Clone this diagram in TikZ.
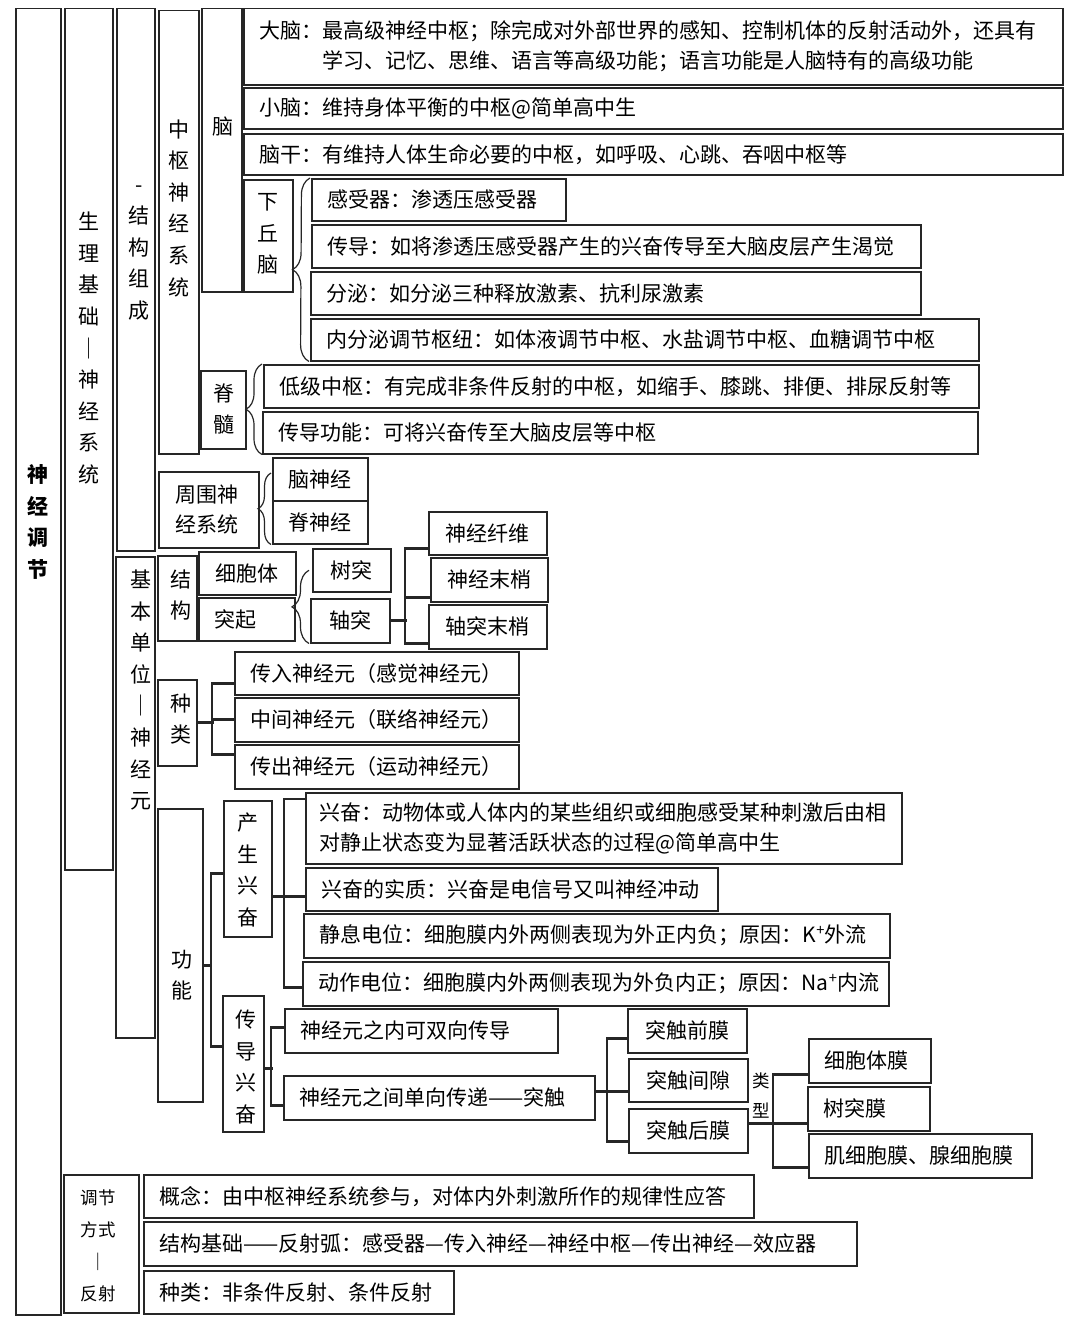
\documentclass[tikz,border=0pt]{standalone}
\usepackage{fontspec}
\setmainfont{Noto Sans CJK SC}
\usetikzlibrary{decorations.pathreplacing}

\begin{document}
\begin{tikzpicture}[x=1pt,y=-1pt,
    font=\fontsize{21}{30}\selectfont,
    frame/.style={draw=black!85, line width=1.5pt},
    leaf/.style={frame, anchor=north west, align=left, inner xsep=16pt, inner ysep=0pt},
    cbox/.style={frame, anchor=north west, align=center, inner sep=0pt},
    vlab/.style={align=center, inner sep=0pt, font=\fontsize{21}{31.6}\selectfont},
    smalllab/.style={align=center, inner sep=0pt, font=\fontsize{17.5}{32}\selectfont},
    conn/.style={draw=black!85, line width=2.6pt},
    brc/.style={draw=black!85, line width=1.2pt, decorate, decoration={brace, amplitude=#1, raise=1pt}}]
    \fill[white] (0,0) rectangle (1080,1322);

    % vertical frames
    \node[cbox, minimum width=45pt, minimum height=1306pt] (sjtj) at (15,8) {};
    \node[vlab, font=\fontsize{21}{31.6}\selectfont\bfseries] (sjtj-t) at (38,522) {神\\经\\调\\节};
    \node[cbox, minimum width=48pt, minimum height=861pt] (slji) at (64,8) {};
    \node[vlab] (slji-t) at (89,348) {生\\理\\基\\础\\｜\\神\\经\\系\\统};
    \node[cbox, minimum width=38pt, minimum height=542pt] (jgzc) at (116,8) {};
    \node[vlab] (jgzc-t) at (139,253) {-\\结\\构\\组\\成};
    \node[cbox, minimum width=40pt, minimum height=443pt] (zsxt) at (158,10) {};
    \node[vlab] (zsxt-t) at (179,208) {中\\枢\\神\\经\\系\\统};
    \node[cbox, minimum width=40pt, minimum height=283pt] (nao) at (201,8) {};
    \node[vlab] (nao-t) at (223,127) {脑};
    \node[cbox, minimum width=49pt, minimum height=112pt] (xqn) at (243,179) {};
    \node[vlab] (xqn-t) at (268,234) {下\\丘\\脑};
    \node[cbox, minimum width=45pt, minimum height=78pt] (jisui) at (200,370) {};
    \node[vlab] (jisui-t) at (224,409) {脊\\髓};
    \node[leaf, text width=66pt, minimum height=76pt, inner xsep=17pt] (zwsj) at (158,471) {周围神\\经系统};
    \node[cbox, minimum width=39pt, minimum height=481pt] (jbdw) at (115,556) {};
    \node[vlab] (jbdw-t) at (141,690) {基\\本\\单\\位\\｜\\神\\经\\元};
    \node[cbox, minimum width=39pt, minimum height=85pt] (jg) at (157,555) {};
    \node[vlab] (jg-t) at (181,595) {结\\构};
    \node[cbox, minimum width=39pt, minimum height=86pt] (zl) at (157,679) {};
    \node[vlab] (zl-t) at (181,719) {种\\类};
    \node[cbox, minimum width=45pt, minimum height=293pt] (gn) at (157,808) {};
    \node[vlab] (gn-t) at (182,975) {功\\能};
    \node[cbox, minimum width=48pt, minimum height=136pt] (csxf) at (223,800) {};
    \node[vlab] (csxf-t) at (248,870) {产\\生\\兴\\奋};
    \node[cbox, minimum width=41pt, minimum height=136pt] (cdxf) at (222,995) {};
    \node[vlab] (cdxf-t) at (246,1067) {传\\导\\兴\\奋};
    \node[cbox, minimum width=75pt, minimum height=138pt] (tjfs) at (63,1174) {};
    \node[smalllab] (tjfs-t) at (98,1246) {调节\\方式\\｜\\反射};

    % brain
    \node[leaf, text width=787pt, minimum height=76pt] (dn) at (243,8) {大脑：最高级神经中枢；除完成对外部世界的感知、控制机体的反射活动外，还具有\\\hspace*{63pt}学习、记忆、思维、语言等高级功能；语言功能是人脑特有的高级功能};
    \node[leaf, text width=787pt, minimum height=41pt] (xn) at (243,87) {小脑：维持身体平衡的中枢@简单高中生};
    \node[leaf, text width=787pt, minimum height=41pt] (ng) at (243,133) {脑干：有维持人体生命必要的中枢，如呼吸、心跳、吞咽中枢等};
    \node[leaf, text width=222pt, minimum height=42pt] (gsq) at (311,178) {感受器：渗透压感受器};
    \node[leaf, text width=577pt, minimum height=43pt] (cd) at (311,224) {传导：如将渗透压感受器产生的兴奋传导至大脑皮层产生渴觉};
    \node[leaf, text width=578pt, minimum height=43pt] (fm) at (310,271) {分泌：如分泌三种释放激素、抗利尿激素};
    \node[leaf, text width=636pt, minimum height=42pt] (nfm) at (310,318) {内分泌调节枢纽：如体液调节中枢、水盐调节中枢、血糖调节中枢};
    \node[leaf, text width=683pt, minimum height=43pt] (djzs) at (263,364) {低级中枢：有完成非条件反射的中枢，如缩手、膝跳、排便、排尿反射等};
    \node[leaf, text width=683pt, minimum height=42pt] (cdgn) at (262,411) {传导功能：可将兴奋传至大脑皮层等中枢};
    \draw[brc=17pt] (nfm.south west) -- (gsq.north west);
    \draw[brc=16pt] (djzs.west |- cdgn.south) -- (djzs.north west);

    % nerves
    \node[cbox, minimum width=95pt, minimum height=43pt] (nsj) at (272,457) {脑神经};
    \node[cbox, minimum width=95pt, minimum height=43pt] (jsj) at (272,500) {脊神经};
    \draw[brc=13pt] (jsj.south west) -- ([yshift=-16pt]nsj.north west);

    % neuron structure
    \node[cbox, minimum width=97pt, minimum height=43pt] (xbt) at (198,551) {细胞体};
    \node[leaf, text width=64pt, minimum height=43pt] (tq) at (198,597) {突起};
    \node[cbox, minimum width=78pt, minimum height=43pt] (st) at (312,548) {树突};
    \node[cbox, minimum width=79pt, minimum height=44pt] (zt) at (310,598) {轴突};
    \draw[brc=17pt] (zt.south west) -- (zt.west |- st.west);
    \node[cbox, minimum width=118pt, minimum height=43pt] (xw) at (428,511) {神经纤维};
    \node[cbox, minimum width=117pt, minimum height=44pt] (mx) at (430,557) {神经末梢};
    \node[cbox, minimum width=118pt, minimum height=44pt] (ztm) at (428,604) {轴突末梢};
    \draw[conn] (zt.east) -- ++(16,0);
    \draw[conn] ([yshift=7pt]xw.south west) -- ++(-23,0) |- ([yshift=6pt]ztm.south west);
    \draw[conn] ([yshift=5pt]mx.south west) -- ++(-25,0);

    % neuron kinds
    \node[leaf, text width=252pt, minimum height=43pt] (crx) at (234,651) {传入神经元（感觉神经元）};
    \node[leaf, text width=252pt, minimum height=44pt] (zjx) at (234,697) {中间神经元（联络神经元）};
    \node[leaf, text width=252pt, minimum height=44pt] (ccx) at (234,744) {传出神经元（运动神经元）};
    \draw[conn] (zl.east) -- ++(16,0);
    \draw[conn] ([yshift=-10pt]crx.west) -- ++(-22,0) |- ([yshift=12pt]ccx.west);
    \draw[conn] (zjx.west) -- ++(-22,0);

    % function
    \node[leaf, text width=568pt, minimum height=71pt, inner xsep=14pt] (xf) at (305,792) {兴奋：动物体或人体内的某些组织或细胞感受某种刺激后由相\\对静止状态变为显著活跃状态的过程@简单高中生};
    \node[leaf, text width=380pt, minimum height=43pt] (sz) at (305,867) {兴奋的实质：兴奋是电信号又叫神经冲动};
    \node[leaf, text width=554pt, minimum height=44pt] (jx) at (303,913) {静息电位：细胞膜内外两侧表现为外正内负；原因：K\textsuperscript{+}外流};
    \node[leaf, text width=554pt, minimum height=44pt] (dz) at (302,961) {动作电位：细胞膜内外两侧表现为外负内正；原因：Na\textsuperscript{+}内流};
    \node[leaf, text width=241pt, minimum height=44pt] (nn) at (284,1008) {神经元之内可双向传导};
    \node[leaf, text width=279pt, minimum height=44pt] (nj) at (283,1075) {神经元之间单向传递——突触};
    \draw[conn] ([yshift=-10pt]gn.east) -- ++(8,0);
    \draw[conn] ([yshift=-5pt]csxf.west) -- ++(-12,0) |- ([yshift=17pt]cdxf.west);
    \draw[conn] ([yshift=-28pt]csxf.east) -- ++(34,0);
    \draw[conn] ([yshift=-7pt]xf.north west) -- ++(-21,0) |- ([yshift=-4pt]dz.west);
    \draw[conn] ([yshift=-5pt]cdxf.east) -- ++(8,0);
    \draw[conn] ([yshift=3pt]nn.west) -- ++(-13,0) |- ([yshift=-8pt]nj.west);

    % synapse
    \node[cbox, minimum width=119pt, minimum height=44pt] (qm) at (627,1008) {突触前膜};
    \node[cbox, minimum width=119pt, minimum height=43pt] (jxx) at (628,1058) {突触间隙};
    \node[cbox, minimum width=119pt, minimum height=44pt] (hm) at (628,1108) {突触后膜};
    \draw[conn] ([yshift=6pt]nj.east) -- ++(34,0);
    \draw[conn] ([yshift=-8pt]qm.west) -- ++(-20,0) |- ([yshift=-11pt]hm.west);
    \node[leaf, text width=90pt, minimum height=44pt] (xbtm) at (808,1038) {细胞体膜};
    \node[leaf, text width=90pt, minimum height=44pt] (stm) at (807,1086) {树突膜};
    \node[leaf, text width=191pt, minimum height=44pt] (jxbm) at (808,1133) {肌细胞膜、腺细胞膜};
    \node[smalllab, font=\fontsize{17.5}{30}\selectfont] (lx-t) at (761,1096) {类\\型};
    \draw[conn] ([yshift=7pt]hm.east) -- ++(60,0);
    \draw[conn] ([yshift=-14pt]xbtm.west) -- ++(-35,0) |- ([yshift=-12pt]jxbm.west);

    % reflex
    \node[leaf, text width=578pt, minimum height=43pt] (gn2) at (143,1174) {概念：由中枢神经系统参与，对体内外刺激所作的规律性应答};
    \node[leaf, text width=681pt, minimum height=44pt] (jgjc) at (143,1221) {结构基础——反射弧：感受器—传入神经—神经中枢—传出神经—效应器};
    \node[leaf, text width=278pt, minimum height=43pt] (zl2) at (143,1270) {种类：非条件反射、条件反射};
\end{tikzpicture}
\end{document}
